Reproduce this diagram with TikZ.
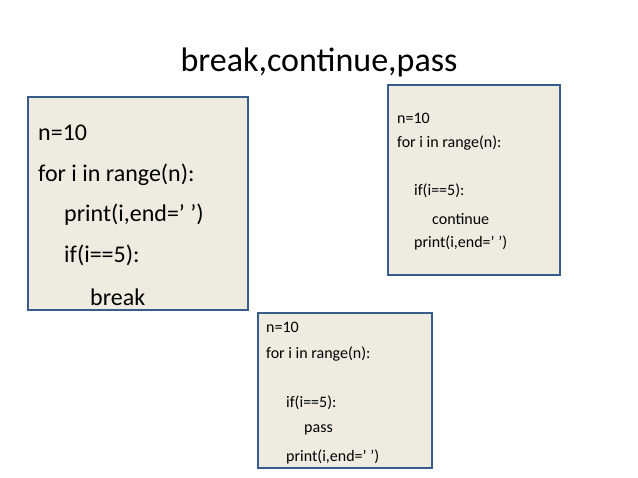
\documentclass[tikz,border=0pt]{standalone}
\usepackage{fontspec}
\setmainfont{Carlito}
\definecolor{bx}{HTML}{EEECE1}
\definecolor{bd}{HTML}{385D8A}
\begin{document}
\begin{tikzpicture}[x=1pt,y=-1pt,
  box/.style={draw=bd,fill=bx,line width=1.2pt},
  big/.style={anchor=west,font=\fontsize{24}{28}\selectfont,inner sep=0},
  sm/.style={anchor=west,font=\fontsize{16}{19}\selectfont,inner sep=0}]
\useasboundingbox (0,0) rectangle (638,478);
\node[font=\fontsize{34}{40}\selectfont] (t) at (319,62) {break,continue,pass};
\draw[box] (28,97) rectangle (248,310);
\node[big] (a1) at (38,133) {n=10};
\node[big] (a2) at (38,175) {for i in range(n):};
\node[big] (a3) at (64,215) {print(i,end=' ')};
\node[big] (a4) at (64,255) {if(i==5):};
\node[big] (a5) at (90,297) {break};
\draw[box] (388,85) rectangle (560,275);
\node[sm] (b1) at (397,118) {n=10};
\node[sm] (b2) at (397,143) {for i in range(n):};
\node[sm] (b3) at (414,191) {if(i==5):};
\node[sm] (b4) at (432,219) {continue};
\node[sm] (b5) at (414,243) {print(i,end=' ')};
\draw[box] (258,313) rectangle (432,468);
\node[sm] (c1) at (266,327) {n=10};
\node[sm] (c2) at (266,354) {for i in range(n):};
\node[sm] (c3) at (286,403) {if(i==5):};
\node[sm] (c4) at (304,430) {pass};
\node[sm] (c5) at (286,457) {print(i,end=' ')};
\end{tikzpicture}
\end{document}
